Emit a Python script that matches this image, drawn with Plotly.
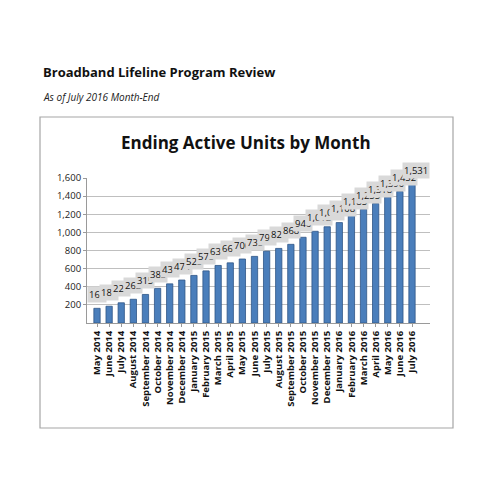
import plotly.graph_objects as go

# data
months = ['May 2014', 'June 2014', 'July 2014', 'August 2014', 'September 2014',
          'October 2014', 'November 2014', 'December 2014', 'January 2015',
          'February 2015', 'March 2015', 'April 2015', 'May 2015', 'June 2015',
          'July 2015', 'August 2015', 'September 2015', 'October 2015',
          'November 2015', 'December 2015', 'January 2016', 'February 2016',
          'March 2016', 'April 2016', 'May 2016', 'June 2016', 'July 2016']
active_units = [162, 185, 223, 262, 315, 383, 432, 474, 525, 575, 635, 664, 706, 735,
                792, 823, 868, 946, 1012, 1062, 1108, 1185, 1255, 1318, 1390, 1452, 1531]
y_ticks = [200, 400, 600, 800, 1000, 1200, 1400, 1600]

# page geometry (pixels); the page body adds an 8px offset
W, H = 480, 480
OFF = 8
L, R, T, B = 79, 58, 170, 165
font_face = 'Open Sans, Lato, sans-serif'


def px_x(px):
    return (px - OFF - L) / (W - L - R)


def px_y(py):
    return (H - B - (py - OFF)) / (H - T - B)


fig = go.Figure()

fig.add_bar(
    x=months,
    y=active_units,
    marker=dict(color='#4a7ebb', line=dict(color='#2f5587', width=0.8)),
    width=0.52,
    hoverinfo='x+y',
)

# data labels in grey boxes, later ones drawn over earlier ones
for m, v in zip(months, active_units):
    fig.add_annotation(
        x=m, y=v, text=f'{v:,}', showarrow=False,
        xanchor='left', xshift=-10,
        yshift=14, yanchor='middle',
        font=dict(family=font_face, size=9.5, color='#111111'),
        bgcolor='#d9d9d9', borderpad=1,
    )

# chart frame
fig.add_shape(type='rect', xref='paper', yref='paper',
              x0=px_x(40), x1=px_x(453), y0=px_y(428), y1=px_y(117),
              line=dict(color='#a6a6a6', width=1.2), layer='below')

# headings
fig.add_annotation(xref='paper', yref='paper', x=px_x(41), y=px_y(72),
                   xanchor='left', yanchor='middle', showarrow=False,
                   text='<b>Broadband Lifeline Program Review</b>',
                   font=dict(family=font_face, size=13, color='#111111'))
fig.add_annotation(xref='paper', yref='paper', x=px_x(41), y=px_y(97),
                   xanchor='left', yanchor='middle', showarrow=False,
                   text='<i>As of July 2016 Month-End</i>',
                   font=dict(family=font_face, size=10, color='#222222'))
fig.add_annotation(xref='paper', yref='paper', x=px_x(246), y=px_y(142),
                   xanchor='center', yanchor='middle', showarrow=False,
                   text='<b>Ending Active Units by Month</b>',
                   font=dict(family=font_face, size=17, color='#111111'))

fig.update_layout(
    width=W, height=H,
    margin=dict(l=L, r=R, t=T, b=B),
    paper_bgcolor='white',
    plot_bgcolor='white',
    showlegend=False,
    font=dict(family=font_face, color='#222222'),
)

fig.update_xaxes(
    tickangle=-90,
    tickfont=dict(family=font_face, size=9.5, color='#111111', weight='bold'),
    showgrid=False,
    showline=True, linecolor='#9a9a9a',
    ticks='outside', ticklen=3, tickcolor='#9a9a9a',
)

fig.update_yaxes(
    range=[0, 1600],
    tickvals=y_ticks,
    ticktext=[f'{t:,}' for t in y_ticks],
    tickfont=dict(family=font_face, size=9.5, color='#222222'),
    showgrid=True, gridcolor='#bfbfbf', gridwidth=1,
    showline=True, linecolor='#9a9a9a',
    ticks='outside', ticklen=3, tickcolor='#9a9a9a',
    zeroline=False,
)

fig.write_html('out.html')
